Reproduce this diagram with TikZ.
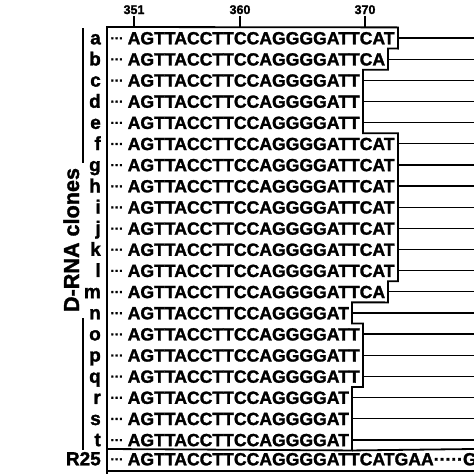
\documentclass[tikz,border=0pt]{standalone}
\usepackage{fontspec}
\setmainfont{Liberation Sans}
\newfontfamily\heavy{Liberation Sans Bold}[FakeBold=1.6]
\begin{document}
\begin{tikzpicture}[x=1pt,y=-1pt,
    seq/.style={anchor=base west,inner sep=0pt,font=\fontsize{17.6}{18}\heavy},
    dotsnode/.style={anchor=base,inner sep=0pt,font=\fontsize{13}{13}\heavy},
    clone/.style={anchor=base east,inner sep=0pt,font=\fontsize{19}{19}\heavy},
    posnum/.style={anchor=base,inner sep=0pt,font=\fontsize{12.5}{12.5}\heavy},
    rowline/.style={line width=1.3pt},
    frame/.style={line width=1.8pt,line join=miter}]
    \useasboundingbox (0,0) rectangle (474,474);
    %
    % rows of D-RNA clones
    \foreach \i/\lab/\tail/\ex in {0/a/TCAT/398,1/b/TCA/388,2/c/T/363,3/d/T/363,
        4/e/T/363,5/f/TCAT/398,6/g/TCAT/398,7/h/TCAT/398,8/i/TCAT/398,
        9/j/TCAT/398,10/k/TCAT/398,11/l/TCAT/398,12/m/TCA/388,13/n//352,
        14/o/T/363,15/p/T/363,16/q/T/363,17/r//352,18/s//352,19/t//352}{
        \pgfmathsetmacro\yy{38+21.15*\i}
        \node[clone] (L\i) at (101,\yy+6.3) {\lab};
        \node[dotsnode] (D\i) at (117,\yy+4.6) {···};
        \node[seq] (S\i) at (127.5,\yy+6.3) {AGTTACCTTCCAGGGGAT\tail};
        \coordinate (T\i) at (\ex,\yy-10.6);
        \coordinate (B\i) at (\ex,\yy+10.6);
        \coordinate (E\i) at (\ex,\yy);
        \coordinate (R\i) at (474,\yy);
        \draw[rowline] (E\i) -- (R\i);
    }
    %
    % parent sequence
    \node[clone] (L25) at (101,465.3) {R25};
    \node[dotsnode] (D25) at (117,463.6) {···};
    \node[seq] (S25) at (127.5,465.3) {AGTTACCTTCCAGGGGATTCATGAA·····G};
    %
    % stepped frame
    \coordinate (TL) at (107,27);
    \coordinate (BL) at (107,449);
    \coordinate (BR) at (474,449);
    \coordinate (FL) at (107,474);
    \coordinate (GL) at (107,471);
    \coordinate (GR) at (474,471);
    \draw[frame] (TL) foreach \i in {0,...,19} { -- (T\i) -- (B\i) } -- (BL) -- cycle;
    \draw[frame] (B19) -- (BR);
    \draw[frame] (BL) -- (FL);
    \draw[rowline] (GL) -- (GR);
    %
    % positions
    \foreach \p/\x in {351/134,360/240,370/365}{
        \coordinate (P\p) at (\x,27);
        \coordinate (Q\p) at (\x,16);
        \draw[frame] (P\p) -- (Q\p);
        \node[posnum] (N\p) at (\x,14) {\p};
    }
    %
    % bracket and group label
    \coordinate (K1) at (83,28);
    \coordinate (K2) at (83,163);
    \coordinate (K3) at (83,318);
    \coordinate (K4) at (83,450);
    \draw[frame] (K1) -- (K2);
    \draw[frame] (K3) -- (K4);
    \node[rotate=90,anchor=base,inner sep=0pt,font=\fontsize{21.6}{22}\heavy]
        (grp) at (79,240) {D-RNA clones};
    %
\end{tikzpicture}
\end{document}
